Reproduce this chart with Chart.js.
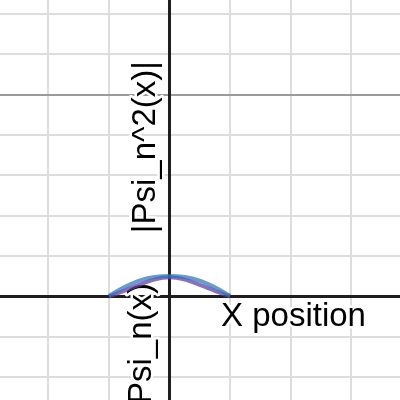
<!DOCTYPE html>
<html>
<head>
<meta charset="utf-8">
<script src="https://cdn.jsdelivr.net/npm/chart.js@4.4.0/dist/chart.umd.min.js"></script>
<style>
  html, body { margin: 0; padding: 0; background: #fff; }
  #wrap { width: 400px; height: 400px; }
</style>
</head>
<body>
<div id="wrap"><canvas id="myChart" width="400" height="400"></canvas></div>
<script>
// curve samples
var xPos = [-1, -0.75, -0.5, -0.25, 0, 0.25, 0.5, 0.75, 1];
var psiN = [0.004, 0.046, 0.079, 0.097, 0.102, 0.097, 0.079, 0.046, 0.004];
var psiN2 = [0.0, 0.028, 0.058, 0.084, 0.095, 0.084, 0.058, 0.028, 0.0];

// text labels, anchored in data units
var labelText = ["X position", "|Psi_n^2(x)|", "Psi_n(x)"];
var labelX = [0.85, -0.24, -0.3];
var labelY = [-0.146, 0.314, 0.067];
var labelRot = [0, -90, -90];
var labelAlign = ["left", "left", "right"];

// view window
var xMin = -2.797, xMax = 3.804;
var yMin = -0.512, yMax = 1.468;

function toPoints(xs, ys) {
    return xs.map(function (x, i) { return {x: x, y: ys[i]}; });
}

function gridColor(step, major) {
    return function (ctx) {
        var v = ctx.tick.value;
        var k = v / step;
        if (Math.abs(k - Math.round(k)) > 1e-6) return "rgba(0,0,0,0)";
        if (Math.abs(v) < 1e-9) return "rgba(0,0,0,0)";
        var m = v / major;
        if (Math.abs(m - Math.round(m)) < 1e-6) return "#9a9a9a";
        return "#dddddd";
    };
}

var desmosLook = {
    id: "desmosLook",
    beforeDatasetsDraw: function (chart) {
        var c = chart.ctx;
        var sx = chart.scales.x, sy = chart.scales.y;
        var x0 = sx.getPixelForValue(0), y0 = sy.getPixelForValue(0);
        c.save();
        c.strokeStyle = "#1e1e1e";
        c.lineWidth = 3;
        c.beginPath();
        c.moveTo(x0, sy.top); c.lineTo(x0, sy.bottom);
        c.moveTo(sx.left, y0); c.lineTo(sx.right, y0);
        c.stroke();

        c.font = "33px 'Liberation Sans', Arial, sans-serif";
        c.textBaseline = "alphabetic";
        c.lineJoin = "round";
        for (var i = 0; i < labelText.length; i++) {
            c.save();
            c.translate(sx.getPixelForValue(labelX[i]), sy.getPixelForValue(labelY[i]));
            c.rotate(labelRot[i] * Math.PI / 180);
            c.textAlign = labelAlign[i];
            c.strokeStyle = "#ffffff";
            c.lineWidth = 5;
            c.strokeText(labelText[i], 0, 0);
            c.fillStyle = "#000000";
            c.fillText(labelText[i], 0, 0);
            c.restore();
        }
        c.restore();
    }
};

var ctx = document.getElementById("myChart").getContext("2d");
var chart = new Chart(ctx, {
    type: "line",
    data: {
        datasets: [
            {
                label: "Psi_n(x)",
                data: toPoints(xPos, psiN),
                borderColor: "rgba(45, 112, 179, 0.7)",
                borderWidth: 4,
                pointRadius: 0,
                fill: false,
                cubicInterpolationMode: "monotone"
            },
            {
                label: "|Psi_n^2(x)|",
                data: toPoints(xPos, psiN2),
                borderColor: "rgba(96, 66, 166, 0.75)",
                borderWidth: 4,
                pointRadius: 0,
                fill: false,
                cubicInterpolationMode: "monotone"
            }
        ]
    },
    options: {
        responsive: false,
        animation: false,
        devicePixelRatio: 1,
        layout: { padding: 0 },
        plugins: {
            legend: { display: false },
            tooltip: { enabled: false }
        },
        scales: {
            x: {
                type: "linear",
                min: xMin,
                max: xMax,
                border: { display: false },
                ticks: { display: false, stepSize: 1, includeBounds: false },
                grid: { drawTicks: false, color: gridColor(1, 5), lineWidth: 2 }
            },
            y: {
                type: "linear",
                min: yMin,
                max: yMax,
                border: { display: false },
                ticks: { display: false, stepSize: 0.2, includeBounds: false },
                grid: { drawTicks: false, color: gridColor(0.2, 1), lineWidth: 2 }
            }
        }
    },
    plugins: [desmosLook]
});
</script>
</body>
</html>
